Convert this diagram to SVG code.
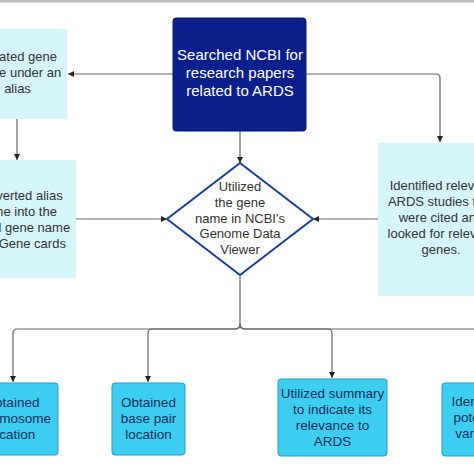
<svg xmlns="http://www.w3.org/2000/svg" width="474" height="474" viewBox="0 0 474 474">
<defs>
<marker id="arr" viewBox="0 0 10 10" refX="10" refY="5" markerWidth="6" markerHeight="6" orient="auto" markerUnits="userSpaceOnUse">
<path d="M0,0 L10,5 L0,10 z" fill="#222"/>
</marker>
</defs>
<style>
.t{font-family:"Liberation Sans",Arial,sans-serif;text-anchor:middle}
.light{fill:#d5f5fb}
.lt{font-size:13px;fill:#333}
.bot{fill:#3ccdf1;stroke:#2b9bc0;stroke-width:1}
.bt{font-size:13.5px;fill:#14305c}
.con{fill:none;stroke:#666;stroke-width:1.2}
</style>
<rect x="0" y="0" width="474" height="2.5" fill="#bcbcbc"/>
<g id="connectors">
<path class="con" d="M173,74 L68,74" marker-end="url(#arr)"/>
<path class="con" d="M306,74 L436,74 Q440,74 440,78 L440,142" marker-end="url(#arr)"/>
<path class="con" d="M240,131 L240,163" marker-end="url(#arr)"/>
<path class="con" d="M17,119 L17,160" marker-end="url(#arr)"/>
<path class="con" d="M76,219 L167,219" marker-end="url(#arr)"/>
<path class="con" d="M378,219 L313,219" marker-end="url(#arr)"/>
<path class="con" d="M240,275 L240,324 Q240,329 235,329 L17,329 Q13,329 13,333 L13,382" marker-end="url(#arr)"/>
<path class="con" d="M240,324 Q240,329 235,329 L152,329 Q148,329 148,333 L148,382" marker-end="url(#arr)"/>
<path class="con" d="M240,324 Q240,329 245,329 L328,329 Q332,329 332,333 L332,378" marker-end="url(#arr)"/>
<path class="con" d="M240,324 Q240,329 245,329 L475,329 Q479,329 479,333 L479,382" marker-end="url(#arr)"/>
</g>
<g id="n-search">
<rect x="173" y="18" width="133" height="113" rx="3" fill="#0a1f8c" stroke="#06186e" stroke-width="1"/>
<text class="t" font-size="15" fill="#fff"><tspan x="240" y="59.6">Searched NCBI for</tspan><tspan x="240" y="78">research papers</tspan><tspan x="240" y="96">related to ARDS</tspan></text>
</g>
<g id="n-alias">
<rect class="light" x="-32" y="29" width="99" height="90"/>
<text class="t lt"><tspan x="17.5" y="60.5">Located gene</tspan><tspan x="17.5" y="76.5">name under an</tspan><tspan x="17.5" y="92.5">alias</tspan></text>
</g>
<g id="n-convert">
<rect class="light" x="-41" y="160" width="117" height="118"/>
<text class="t lt"><tspan x="17.5" y="199.5">Converted alias</tspan><tspan x="17.5" y="215.5">name into the</tspan><tspan x="17.5" y="231.5">official gene name</tspan><tspan x="17.5" y="247.5">from Gene cards</tspan></text>
</g>
<g id="n-utilized">
<polygon points="240,163 313,219 240,275 167,219" fill="#fff" stroke="#1c3f94" stroke-width="2"/>
<text class="t lt"><tspan x="240" y="191.3">Utilized</tspan><tspan x="240" y="206.9">the gene</tspan><tspan x="240" y="222.5">name in NCBI's</tspan><tspan x="240" y="238.1">Genome Data</tspan><tspan x="240" y="253.7">Viewer</tspan></text>
</g>
<g id="n-identified">
<rect class="light" x="378" y="143" width="126" height="153"/>
<text class="t lt"><tspan x="441" y="189.5">Identified relevant</tspan><tspan x="441" y="205.5">ARDS studies that</tspan><tspan x="441" y="221.5">were cited and</tspan><tspan x="441" y="237.5">looked for relevant</tspan><tspan x="441" y="253.5">genes.</tspan></text>
</g>
<g id="n-chromosome">
<rect class="bot" x="-34" y="383" width="92" height="72" rx="3"/>
<text class="t bt"><tspan x="12" y="406.5">Obtained</tspan><tspan x="12" y="422.5">chromosome</tspan><tspan x="12" y="438.5">location</tspan></text>
</g>
<g id="n-basepair">
<rect class="bot" x="112" y="383" width="73" height="72" rx="3"/>
<text class="t bt"><tspan x="148.5" y="406.5">Obtained</tspan><tspan x="148.5" y="422.5">base pair</tspan><tspan x="148.5" y="438.5">location</tspan></text>
</g>
<g id="n-summary">
<rect class="bot" x="278" y="379" width="109" height="77" rx="3"/>
<text class="t bt"><tspan x="332.5" y="397.5">Utilized summary</tspan><tspan x="332.5" y="413.5">to indicate its</tspan><tspan x="332.5" y="429.5">relevance to</tspan><tspan x="332.5" y="445.5">ARDS</tspan></text>
</g>
<g id="n-variants">
<rect class="bot" x="442" y="383" width="74" height="73" rx="3"/>
<text class="t bt"><tspan x="479" y="406">Identified</tspan><tspan x="479" y="422">potential</tspan><tspan x="479" y="437.5">variants</tspan></text>
</g>
</svg>
